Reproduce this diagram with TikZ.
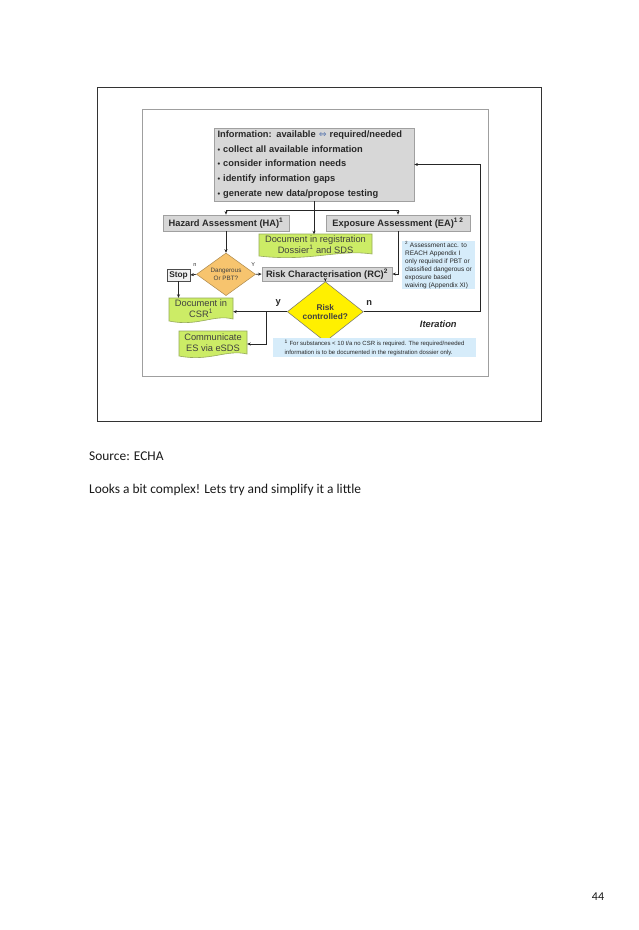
\documentclass[tikz,border=0pt]{standalone}
\usepackage{fontspec}
\setmainfont{Liberation Sans}
\newfontfamily\calibrifont{Carlito}
\newfontfamily\symfont{DejaVu Sans}
\usetikzlibrary{shapes.geometric,arrows.meta,calc}
\definecolor{boxgray}{RGB}{215,215,215}
\definecolor{boxedge}{RGB}{160,160,160}
\definecolor{docgreen}{RGB}{204,236,102}
\definecolor{docedge}{RGB}{150,170,90}
\definecolor{dangor}{RGB}{247,196,110}
\definecolor{risky}{RGB}{255,240,0}
\definecolor{fnblue}{RGB}{214,236,250}
\definecolor{txt}{RGB}{40,40,40}
\definecolor{symblue}{RGB}{90,120,175}
\newcommand\docpath[4]{%
  \pgfmathsetmacro\dw{#3-#1}%
  \filldraw[fill=docgreen, draw=docedge, line width=0.6pt] (#1,#2) -- (#3,#2) -- (#3,#4)
    .. controls ({#3-0.3*\dw},{#4-5}) and ({#1+0.45*\dw},{#4+8}) .. (#1,{#4+2}) -- cycle;}
\newcommand\bul{{\fontsize{7.5}{7.5}\selectfont•}}
\tikzset{
  graybox/.style={draw=boxedge, fill=boxgray, line width=0.8pt, inner sep=0pt, text=txt},
  arr/.style={-{Stealth[length=3.5pt,width=3pt]}, line width=0.7pt, draw=black!85},
  doctext/.style={inner sep=0pt, align=center, font=\fontsize{9.3}{11}\selectfont, text=black!75},
  fnbox/.style={fill=fnblue, inner sep=0pt, align=left, text=txt},
  boldlbl/.style={font=\bfseries\fontsize{9.3}{11}\selectfont},
  tinylbl/.style={font=\fontsize{5.5}{6}\selectfont, text=txt, inner sep=0pt},
  pagetext/.style={inner sep=0pt, font=\calibrifont\fontsize{13.4}{16}\selectfont, text=black!90}
}
\begin{document}
\begin{tikzpicture}[x=1pt,y=-1pt]
\useasboundingbox (0,0) rectangle (638,930);
\fill[white] (0,0) rectangle (638,930);
% frames
\draw[line width=0.9pt, black!80] (97,87) rectangle (541,421);
\draw[line width=0.9pt, gray!75] (142,109) rectangle (488,376);
% info box
\node[graybox, text width=193pt, align=left, minimum height=73pt, inner xsep=3.5pt,
      font=\bfseries\fontsize{9.3}{14.6}\selectfont] (info) at (314,164.5)
  {Information: available {\symfont\color{symblue}\mdseries ⇔} required/needed\\
   \bul{} collect all available information\\
   \bul{} consider information needs\\
   \bul{} identify information gaps\\
   \bul{} generate new data/propose testing};
% assessment boxes
\node[graybox, boldlbl, minimum width=126pt, minimum height=16pt] (ha) at (226,223)
  {Hazard Assessment (HA)\textsuperscript{1}};
\node[graybox, boldlbl, minimum width=144pt, minimum height=16pt] (ea) at (398,223)
  {Exposure Assessment (EA)\textsuperscript{1 2}};
\node[graybox, boldlbl, minimum width=130pt, minimum height=14pt] (rc) at (327,274)
  {Risk Characterisation (RC)\textsuperscript{2}};
\node[draw=black!70, fill=gray!12, line width=0.8pt, inner sep=0pt, minimum width=23pt,
      minimum height=12pt, font=\bfseries\fontsize{8.3}{9}\selectfont, text=txt] (stop) at (178.5,275) {Stop};
% document shapes
\docpath{259}{234}{372}{254}
\node[doctext, minimum width=113pt, minimum height=20pt] (reg) at (315.5,244.5)
  {Document in registration\\Dossier\textsuperscript{1} and SDS};
\docpath{169}{298}{233}{319}
\node[doctext, minimum width=64pt, minimum height=21pt] (csr) at (201,308.5)
  {Document in\\CSR\textsuperscript{1}};
\docpath{179}{331}{247}{354}
\node[doctext, minimum width=68pt, minimum height=23pt] (comm) at (213,342.5)
  {Communicate\\ES via eSDS};
% diamonds
\node[diamond, fill=dangor, draw=dangor!70!black, line width=0.5pt, minimum width=59pt,
      minimum height=32pt, inner sep=0pt, align=center, font=\fontsize{6.3}{7.4}\selectfont,
      text=black!75] (dang) at (226,274.3) {Dangerous\\Or PBT?};
\node[diamond, fill=risky, draw=black!55, line width=0.5pt, minimum width=76pt,
      minimum height=47pt, inner sep=0pt, align=center, font=\bfseries\fontsize{8.3}{8.8}\selectfont,
      text=black!75] (risk) at (325.3,311.7) {Risk\\controlled?};
% footnotes
\node[fnbox, minimum width=73pt, minimum height=48pt, font=\fontsize{6.5}{8}\selectfont] (fn2) at (438.5,265)
  {\textsuperscript{2} Assessment acc. to\\REACH Appendix I\\only required if PBT or\\classified dangerous or\\exposure based\\waiving (Appendix XI)};
\node[fnbox, minimum width=203pt, minimum height=19pt, font=\fontsize{6}{8.3}\selectfont] (fn1) at (374.5,347.5)
  {\textsuperscript{1} For substances < 10 t/a no CSR is required. The required/needed\\information is to be documented in the registration dossier only.};
% labels
\node[tinylbl] (ln1) at (195,265) {n};
\node[tinylbl] (ly1) at (253.3,264.3) {Y};
\node[boldlbl, text=txt, inner sep=0pt] (ly2) at (278.3,302.7) {y};
\node[boldlbl, text=txt, inner sep=0pt] (ln2) at (369.3,302.7) {n};
\node[font=\bfseries\itshape\fontsize{9.3}{11}\selectfont, text=txt, inner sep=0pt] (iter) at (438.3,324) {Iteration};
% connectors
\coordinate (sp) at (314,210);
\coordinate (br) at (266.7,311.7);
\coordinate (itc) at (480,311.7);
\draw[arr] (info.south) -- (info.south |- reg.north);
\draw[arr] (sp) -| (ha.north);
\draw[arr] (sp) -| (ea.north);
\draw[arr] (ha.south) -- (dang.north);
\draw[arr] (dang.west) -- (stop.east);
\draw[arr] (dang.east) -- (rc.west);
\draw[arr] (ea.south) |- (rc.east);
\draw[arr] (stop.south) -- (stop.south |- csr.north);
\draw[arr] (risk.north |- rc.south) -- (risk.north);
\draw[arr] (risk.west) -- (risk.west -| csr.east);
\draw[arr] (br) |- ($(comm.east)+(0,1.5)$);
\draw[arr] (risk.east) -- (itc) |- (info.east);
% page text
\node[pagetext, anchor=base west] (src) at (89,460.3) {Source: ECHA};
\node[pagetext, anchor=base west] (looks) at (89,493.6) {Looks a bit complex! Lets try and simplify it a little};
\node[pagetext, anchor=base, font=\calibrifont\fontsize{12}{14}\selectfont] (pg) at (598,900.8) {44};
\end{tikzpicture}
\end{document}
